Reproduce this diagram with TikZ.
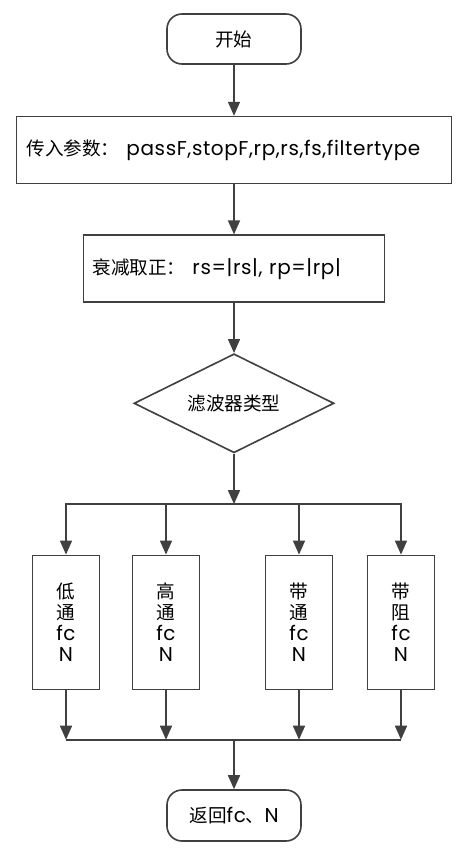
\documentclass[tikz,border=0pt]{standalone}
\usepackage{fontspec}
\setmainfont{Poppins}[LetterSpace=3]
\newfontfamily\cjk{Noto Sans CJK SC}[Scale=0.93]
\usepackage{tikz}
\usetikzlibrary{calc, positioning, shapes.geometric, arrows.meta}
\tikzstyle{startstop} = [rectangle, rounded corners=15pt, minimum width=134pt, minimum height=50pt, text centered, draw=black!75, line width=1.6pt, fill=white]
\tikzstyle{process} = [rectangle, minimum height=67pt, align=left, draw=black!75, line width=1.6pt, fill=white]
\tikzstyle{filterbox} = [rectangle, minimum width=67pt, minimum height=134pt, align=center, draw=black!75, line width=1.6pt, fill=white]
\tikzstyle{decision} = [diamond, aspect=2, inner sep=0pt, minimum width=200pt, minimum height=99pt, text centered, draw=black!75, line width=1.6pt, fill=white]
\tikzstyle{arrow} = [line width=1.6pt, draw=black!75, -{Triangle[length=14pt, width=12pt]}]
\tikzstyle{line} = [line width=1.6pt, draw=black!75]

\begin{document}
\begin{tikzpicture}[font=\fontsize{20}{21}\selectfont]
			\useasboundingbox (-234pt, 39pt) rectangle (240pt, -812pt);
			\node (start) [startstop] {\cjk 开始};
			\node (input) [process, below=51pt of start, inner xsep=10pt, text width=415pt] {{\cjk 传入参数：}\hspace{7pt}passF,stopF,rp,rs,fs,filtertype};
			\node (abs) [process, below=50pt of input, inner xsep=9pt, text width=283pt] {{\cjk 衰减取正：}\hspace{7pt}rs=|rs|, rp=|rp|};
			\node (type) [decision, below=50pt of abs] {\cjk 滤波器类型};
			\node (lp) [filterbox, below=101pt of type, xshift=-168pt] {{\cjk 低}\\{\cjk 通}\\fc\\N};
			\node (hp) [filterbox, below=101pt of type, xshift=-68pt] {{\cjk 高}\\{\cjk 通}\\fc\\N};
			\node (bp) [filterbox, below=101pt of type, xshift=65pt] {{\cjk 带}\\{\cjk 通}\\fc\\N};
			\node (bs) [filterbox, below=101pt of type, xshift=167pt] {{\cjk 带}\\{\cjk 阻}\\fc\\N};
			\coordinate (mid) at (type |- lp.south);
			\node (ret) [startstop, below=99pt of mid, minimum height=51pt] {{\cjk 返回}fc{\cjk 、}N};
			\coordinate (split) at ($(type.south)!0.5!(type.south |- lp.north)$);
			\coordinate (merge) at ($(mid)!0.5!(ret.north)$);
			
			%arrows
			\draw [arrow] (start) -- (input);
			\draw [arrow] (input) -- (abs);
			\draw [arrow] (abs) -- (type);
			\draw [arrow] (type) -- (split);
			\foreach \n in {lp, hp, bp, bs}
				\draw [arrow] (split) -| (\n);
			\foreach \n in {lp, hp, bp, bs}
				\draw [arrow] (\n) -- (\n |- merge);
			\draw [line] (lp |- merge) -- (bs |- merge);
			\draw [arrow] (merge) -- (ret);
			
		\end{tikzpicture}
\end{document}
